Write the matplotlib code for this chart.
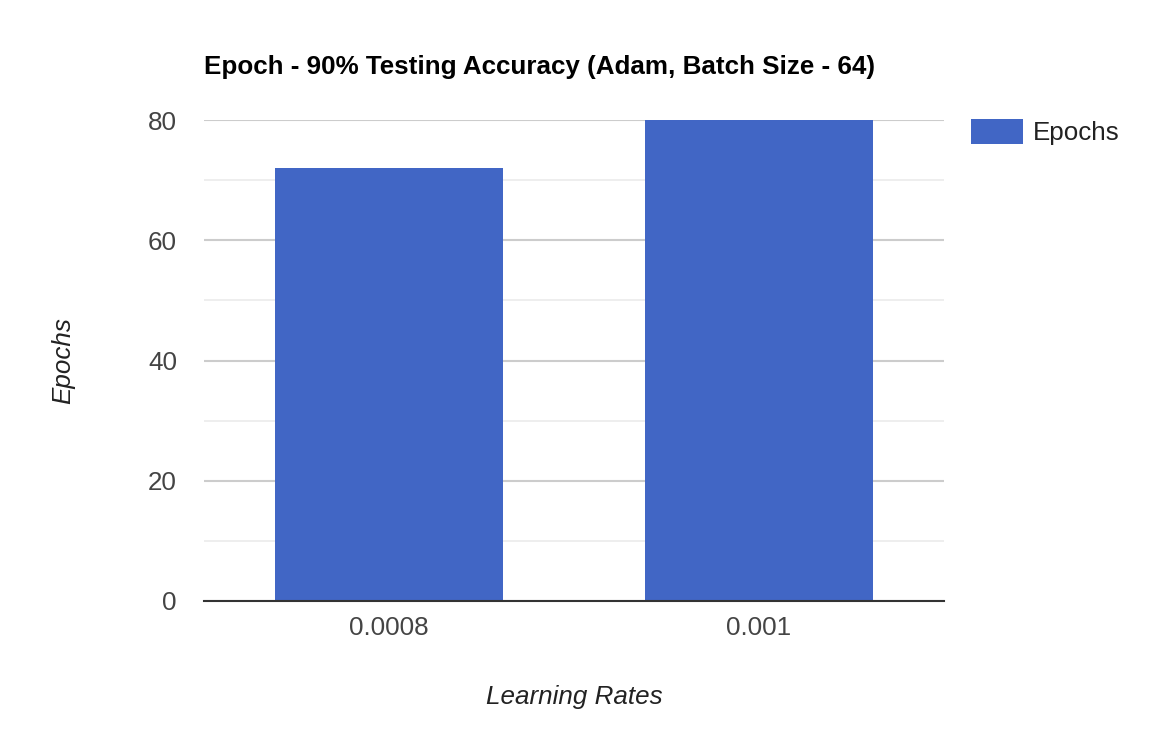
import numpy as np
import matplotlib
matplotlib.use("Agg")
import matplotlib.pyplot as plt

# data
learning_rates = ["0.0008", "0.001"]
epochs = [72, 80]

plt.rcParams['font.family'] = ['Liberation Sans', 'DejaVu Sans']
fs = 18.7

fig = plt.figure(figsize=(11.5, 7.48), dpi=100)
ax = fig.add_axes([204 / 1150, 1 - 601 / 748, 740 / 1150, 481 / 748])

x = np.arange(len(learning_rates))
ax.bar(x, epochs, width=0.616, color='#4166c5', label='Epochs', zorder=3)

ax.set_xlim(-0.5, len(learning_rates) - 0.5)
ax.set_ylim(0, 80)
ax.set_yticks([0, 20, 40, 60, 80])
ax.set_yticks([10, 30, 50, 70], minor=True)
ax.set_xticks(x)
ax.set_xticklabels(learning_rates)

ax.grid(axis='y', which='major', color='#cccccc', linewidth=1.5, zorder=0)
ax.grid(axis='y', which='minor', color='#ebebeb', linewidth=1.2, zorder=0)
for side in ['top', 'right', 'left']:
    ax.spines[side].set_visible(False)
ax.spines['bottom'].set_color('#333333')
ax.spines['bottom'].set_linewidth(1.5)
ax.spines['bottom'].set_zorder(4)

ax.tick_params(axis='both', which='both', length=0, labelsize=fs, colors='#444444')
ax.tick_params(axis='y', pad=19.5)
ax.tick_params(axis='x', pad=11)

ax.set_xlabel("Learning Rates", fontsize=fs, style='italic', color='#222222', va='center')
ax.set_ylabel("Epochs", fontsize=fs, style='italic', color='#222222', va='center')
ax.xaxis.set_label_coords(0.5, -0.2)
ax.yaxis.set_label_coords(-0.19, 0.5)

fig.text(204 / 1150, 1 - 67 / 748, "Epoch - 90% Testing Accuracy (Adam, Batch Size - 64)",
         fontsize=fs, fontweight='bold', color='#000000', va='center', ha='left')

ax.legend(loc='upper left', bbox_to_anchor=(1.036, 1.003), frameon=False,
          fontsize=fs, handlelength=2.0, handleheight=1.15, borderaxespad=0,
          borderpad=0, handletextpad=0.38, labelcolor='#222222')

fig.savefig("out.png", dpi=100)
